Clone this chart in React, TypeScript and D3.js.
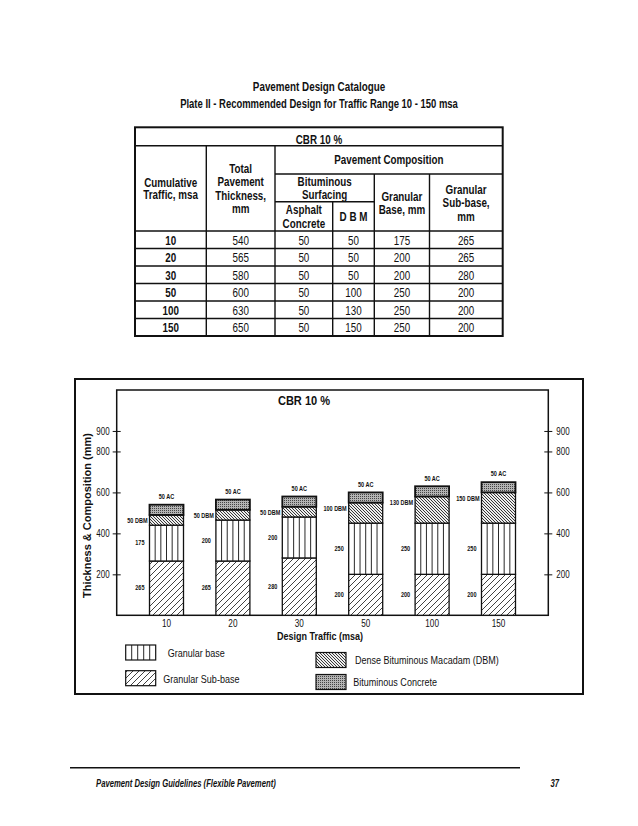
import React, { useEffect, useRef } from 'react';
import * as d3 from 'd3';

// table + chart values (CBR 10 %)
const traffic = ['10', '20', '30', '50', '100', '150'];
const totalThickness = [540, 565, 580, 600, 630, 650];
const asphaltConcrete = [50, 50, 50, 50, 50, 50];
const dbm = [50, 50, 50, 100, 130, 150];
const granularBase = [175, 200, 200, 250, 250, 250];
const subBase = [265, 265, 280, 200, 200, 200];
const yTicks = [200, 400, 600, 800, 900];

const layerKeys = ['subBase', 'granularBase', 'dbm', 'ac'];
const layerFill: Record<string, string> = {
  subBase: 'url(#pat-subbase)',
  granularBase: '#fff',
  dbm: 'url(#pat-dbm)',
  ac: 'url(#pat-ac)',
};

const SANS = "'Liberation Sans', Arial, sans-serif";
// no narrow face installed, so squeeze horizontally
const SQ = 0.82;

type Sel = d3.Selection<any, unknown, null, undefined>;

const txt = (
  parent: Sel, x: number, y: number, s: string, font: string,
  anchor = 'start', sx = SQ,
) =>
  parent.append('text')
    .attr('transform', `translate(${x},${y}) scale(${sx},1)`)
    .attr('dy', '0.35em').attr('text-anchor', anchor)
    .attr('fill', '#111')
    .style('font', `${font} ${SANS}`)
    .text(s);

const App: React.FC = () => {
  const svgRef = useRef<SVGSVGElement>(null);

  useEffect(() => {
    if (!svgRef.current) return;
    const svg = d3.select(svgRef.current) as unknown as Sel;
    svg.selectAll('*').remove();

    // ---------- patterns ----------
    const defs = svg.append('defs');
    const pSub = defs.append('pattern').attr('id', 'pat-subbase')
      .attr('patternUnits', 'userSpaceOnUse').attr('width', 6).attr('height', 6);
    pSub.append('rect').attr('width', 6).attr('height', 6).attr('fill', '#fff');
    pSub.append('path').attr('d', 'M0,6 L6,0 M-1,1 L1,-1 M5,7 L7,5')
      .attr('stroke', '#111').attr('stroke-width', 0.8);

    const pDbm = defs.append('pattern').attr('id', 'pat-dbm')
      .attr('patternUnits', 'userSpaceOnUse').attr('width', 3).attr('height', 3);
    pDbm.append('rect').attr('width', 3).attr('height', 3).attr('fill', '#eeeeee');
    pDbm.append('path').attr('d', 'M0,0 L3,3 M-1,2 L1,4 M2,-1 L4,1')
      .attr('stroke', '#222').attr('stroke-width', 0.9);

    const pAc = defs.append('pattern').attr('id', 'pat-ac')
      .attr('patternUnits', 'userSpaceOnUse').attr('width', 2).attr('height', 2);
    pAc.append('rect').attr('width', 2).attr('height', 2).attr('fill', '#b4b4b4');
    pAc.append('rect').attr('width', 1).attr('height', 1).attr('fill', '#444');

    // ---------- page titles ----------
    txt(svg, 319, 87, 'Pavement Design Catalogue', 'bold 12px', 'middle');
    txt(svg, 319, 104, 'Plate II - Recommended Design for Traffic Range 10 - 150 msa', 'bold 12px', 'middle', 0.79);

    // ---------- table ----------
    const cols = [135, 206.3, 275, 332.7, 374.3, 429.5, 502.7];
    const tTop = 127.3, cbrBottom = 145.7, compBottom = 174, bitBottom = 201.7, headBottom = 231;
    const rowH = 17.5;
    const tBottom = headBottom + rowH * traffic.length;
    const tg = svg.append('g').attr('stroke', '#111').attr('fill', 'none');

    tg.append('rect').attr('x', cols[0]).attr('y', tTop)
      .attr('width', cols[6] - cols[0]).attr('height', tBottom - tTop).attr('stroke-width', 2);
    const hl = (x1: number, x2: number, yy: number) =>
      tg.append('line').attr('x1', x1).attr('x2', x2).attr('y1', yy).attr('y2', yy).attr('stroke-width', 1.4);
    const vl = (xx: number, y1: number, y2: number) =>
      tg.append('line').attr('x1', xx).attr('x2', xx).attr('y1', y1).attr('y2', y2).attr('stroke-width', 1.4);
    hl(cols[0], cols[6], cbrBottom);
    hl(cols[2], cols[6], compBottom);
    hl(cols[2], cols[4], bitBottom);
    traffic.forEach((_, i) => hl(cols[0], cols[6], headBottom + rowH * i));
    vl(cols[1], cbrBottom, tBottom);
    vl(cols[2], cbrBottom, tBottom);
    vl(cols[3], bitBottom, tBottom);
    vl(cols[4], compBottom, tBottom);
    vl(cols[5], compBottom, tBottom);

    const mid = (a: number, b: number) => (cols[a] + cols[b]) / 2;
    const headers: [number, number, string][] = [
      [319, 139.3, 'CBR  10 %'],
      [mid(0, 1), 182.3, 'Cumulative'],
      [mid(0, 1), 195, 'Traffic, msa'],
      [mid(1, 2), 169, 'Total'],
      [mid(1, 2), 182, 'Pavement'],
      [mid(1, 2), 195.3, 'Thickness,'],
      [mid(1, 2), 208.3, 'mm'],
      [mid(2, 6), 160, 'Pavement Composition'],
      [mid(2, 4), 181.7, 'Bituminous'],
      [mid(2, 4), 195, 'Surfacing'],
      [mid(2, 3), 210, 'Asphalt'],
      [mid(2, 3), 223.3, 'Concrete'],
      [mid(3, 4), 216.7, 'D B M'],
      [mid(4, 5), 196.7, 'Granular'],
      [mid(4, 5), 209.3, 'Base, mm'],
      [mid(5, 6), 189.3, 'Granular'],
      [mid(5, 6), 202.7, 'Sub-base,'],
      [mid(5, 6), 216.7, 'mm'],
    ];
    const hg = svg.append('g');
    headers.forEach(([hx, hy, s]) => txt(hg, hx, hy, s, 'bold 12px', 'middle'));

    const tableCols = [traffic, totalThickness, asphaltConcrete, dbm, granularBase, subBase];
    const cg = svg.append('g');
    tableCols.forEach((col, c) => {
      (col as (string | number)[]).forEach((v, i) => {
        txt(cg, mid(c, c + 1), headBottom + rowH * i + rowH / 2 + 1, String(v),
          c === 0 ? 'bold 12px' : '12px', 'middle');
      });
    });

    // ---------- chart ----------
    svg.append('rect').attr('x', 75).attr('y', 379).attr('width', 508).attr('height', 315)
      .attr('fill', 'none').attr('stroke', '#111').attr('stroke-width', 2);

    const plot = { left: 116.7, right: 548.3, top: 390, bottom: 615.3 };
    const y = d3.scaleLinear().domain([0, 1100]).range([plot.bottom, plot.top]);
    const x = d3.scalePoint<string>().domain(traffic).range([plot.left, plot.right]).padding(0.75);
    const barW = 34;

    svg.append('rect').attr('x', plot.left).attr('y', plot.top)
      .attr('width', plot.right - plot.left).attr('height', plot.bottom - plot.top)
      .attr('fill', 'none').attr('stroke', '#111').attr('stroke-width', 1.5);

    const axL = svg.append('g').attr('transform', `translate(${plot.left},0)`)
      .call(d3.axisLeft(y).tickValues(yTicks).tickSize(4).tickPadding(4));
    const axR = svg.append('g').attr('transform', `translate(${plot.right},0)`)
      .call(d3.axisRight(y).tickValues(yTicks).tickSize(4).tickPadding(4));
    [axL, axR].forEach(ax => {
      ax.select('.domain').remove();
      ax.selectAll('.tick line').attr('stroke', '#111').attr('stroke-width', 1);
    });
    axL.selectAll('.tick line').attr('x1', 4);
    axR.selectAll('.tick line').attr('x1', -4);
    axL.selectAll('.tick text').attr('x', null)
      .attr('transform', 'translate(-7,0) scale(0.8,1)')
      .attr('fill', '#111').style('font', `10px ${SANS}`);
    axR.selectAll('.tick text').attr('x', null)
      .attr('transform', 'translate(8,0) scale(0.8,1)')
      .attr('fill', '#111').style('font', `10px ${SANS}`);

    const xl = svg.append('g');
    traffic.forEach(t => txt(xl, x(t)!, 623.5, t, '10px', 'middle', 0.82));

    txt(svg, 320, 636, 'Design Traffic (msa)', 'bold 11px', 'middle');

    svg.append('text').attr('transform', 'translate(86.7,515.5) rotate(-90)')
      .attr('dy', '0.35em').attr('text-anchor', 'middle').attr('fill', '#111')
      .style('font', `bold 11px ${SANS}`)
      .text('Thickness & Composition (mm)');

    txt(svg, 304, 400, 'CBR 10 %', 'bold 13.5px', 'middle');

    // stacked layers
    const rows = traffic.map((t, i) => ({
      traffic: t,
      subBase: subBase[i],
      granularBase: granularBase[i],
      dbm: dbm[i],
      ac: asphaltConcrete[i],
    }));
    const series = d3.stack<any>().keys(layerKeys)(rows);

    const bars = svg.append('g');
    series.forEach(s => {
      bars.append('g').selectAll('rect').data(s).join('rect')
        .attr('x', d => x(d.data.traffic)! - barW / 2)
        .attr('y', d => y(d[1]))
        .attr('width', barW)
        .attr('height', d => y(d[0]) - y(d[1]))
        .attr('fill', layerFill[s.key])
        .attr('stroke', '#111').attr('stroke-width', s.key === 'ac' ? 1.8 : 1.3);
      if (s.key === 'granularBase') {
        s.forEach(d => {
          const x0 = x(d.data.traffic)! - barW / 2;
          d3.range(1, 6).forEach(k => {
            bars.append('line')
              .attr('x1', x0 + (barW / 6) * k).attr('x2', x0 + (barW / 6) * k)
              .attr('y1', y(d[1])).attr('y2', y(d[0]))
              .attr('stroke', '#111').attr('stroke-width', 0.9);
          });
        });
      }
    });

    // bar labels
    const lbl = svg.append('g');
    const byKey = (k: string) => series.find(s => s.key === k)!;
    byKey('ac').forEach(d => {
      txt(lbl, x(d.data.traffic)!, y(d[1]) - 8, `${d.data.ac} AC`, 'bold 6.5px', 'middle', 0.85);
    });
    byKey('dbm').forEach(d => {
      txt(lbl, x(d.data.traffic)! - barW / 2 - 2, y(d[1]) + 6, `${d.data.dbm} DBM`, 'bold 6.5px', 'end', 0.85);
    });
    ['granularBase', 'subBase'].forEach(k => {
      byKey(k).forEach(d => {
        txt(lbl, x(d.data.traffic)! - barW / 2 - 5, (y(d[0]) + y(d[1])) / 2,
          String(d.data[k]), 'bold 6.5px', 'end', 0.85);
      });
    });

    // legend
    const legend = [
      { key: 'granularBase', label: 'Granular base', sx: 125.7, sy: 645, tx: 167.7 },
      { key: 'subBase', label: 'Granular Sub-base', sx: 125.7, sy: 670.7, tx: 163.3 },
      { key: 'dbm', label: 'Dense Bituminous Macadam (DBM)', sx: 316, sy: 652.5, tx: 355 },
      { key: 'ac', label: 'Bituminous Concrete', sx: 316, sy: 674.5, tx: 353.3 },
    ];
    const lg = svg.append('g');
    legend.forEach(l => {
      lg.append('rect').attr('x', l.sx).attr('y', l.sy).attr('width', 30).attr('height', 15)
        .attr('fill', layerFill[l.key]).attr('stroke', '#111').attr('stroke-width', 1.2);
      if (l.key === 'granularBase') {
        d3.range(1, 5).forEach(k => {
          lg.append('line').attr('x1', l.sx + 6 * k).attr('x2', l.sx + 6 * k)
            .attr('y1', l.sy).attr('y2', l.sy + 15).attr('stroke', '#111').attr('stroke-width', 0.9);
        });
      }
      txt(lg, l.tx, l.sy + 8, l.label, '11px', 'start', 0.82);
    });

    // footer
    svg.append('line').attr('x1', 70).attr('x2', 520).attr('y1', 767.7).attr('y2', 767.7)
      .attr('stroke', '#111').attr('stroke-width', 1.5);
    txt(svg, 96, 783.5, 'Pavement Design Guidelines (Flexible Pavement)', 'italic bold 10px', 'start', 0.77);
    txt(svg, 559, 783.5, '37', 'italic bold 10px', 'end', 0.77);
  }, []);

  return (
    <div>
      <style>{'body{margin:0;background:#fff}'}</style>
      <svg ref={svgRef} width={638} height={826} style={{ display: 'block' }} />
    </div>
  );
};

export default App;
